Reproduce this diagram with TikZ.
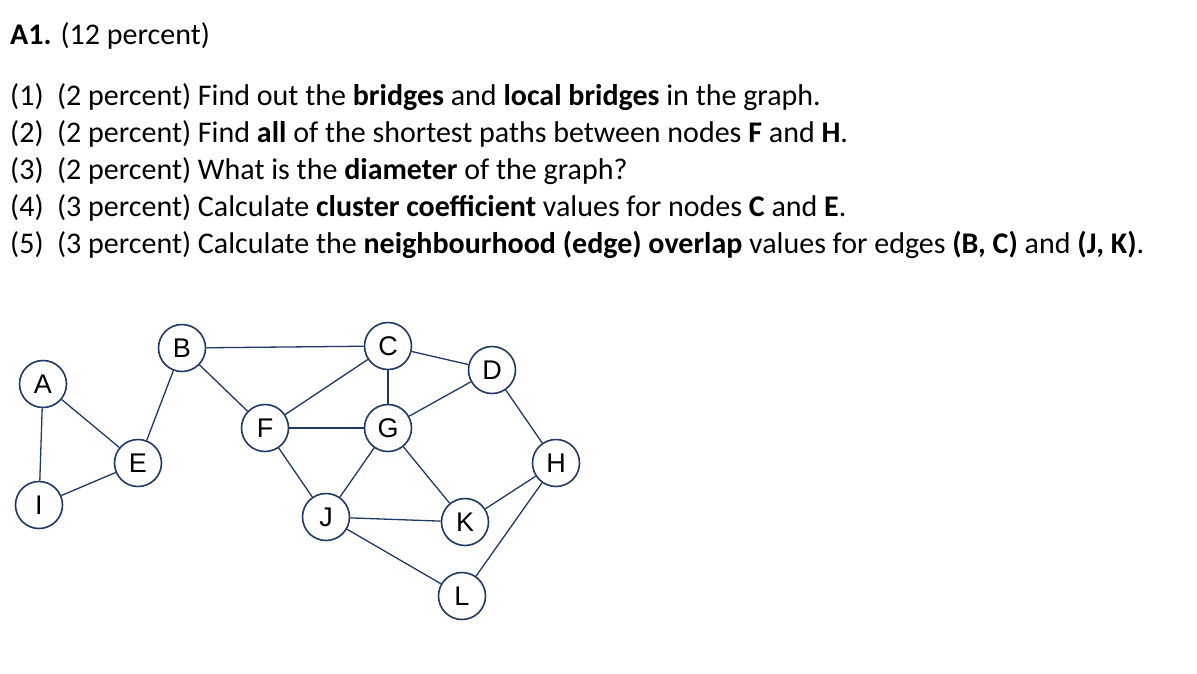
\documentclass[tikz,border=0pt]{standalone}
\usepackage{fontspec}
\setmainfont{Carlito}
\newfontfamily\arialf{Liberation Sans}
\begin{document}
\begin{tikzpicture}[x=1pt,y=-1pt,
  gnode/.style={circle,draw=nblue,line width=1.6pt,fill=white,minimum size=47pt,inner sep=0pt,font=\arialf\fontsize{27}{27}\selectfont},
  gedge/.style={draw=nblue,line width=1.3pt},
  qline/.style={anchor=base west,inner sep=0pt,font=\fontsize{30}{34}\selectfont}]
\definecolor{nblue}{HTML}{1F3864}
\useasboundingbox (0,0) rectangle (1197,673);
\node[qline] (t0) at (10,44) {\textbf{A1.} (12 percent)};
\node[qline] (t1) at (10,105) {(1)\ \ (2 percent) Find out the \textbf{bridges} and \textbf{local bridges} in the graph.};
\node[qline] (t2) at (10,142) {(2)\ \ (2 percent) Find \textbf{all} of the shortest paths between nodes \textbf{F} and \textbf{H}.};
\node[qline] (t3) at (10,179) {(3)\ \ (2 percent) What is the \textbf{diameter} of the graph?};
\node[qline] (t4) at (10,216) {(4)\ \ (3 percent) Calculate \textbf{cluster coefficient} values for nodes \textbf{C} and \textbf{E}.};
\node[qline] (t5) at (10,253) {(5)\ \ (3 percent) Calculate the \textbf{neighbourhood (edge) overlap} values for edges \textbf{(B, C)} and \textbf{(J, K)}.};
\node[gnode] (A) at (43,384) {A};
\node[gnode] (B) at (182,348) {B};
\node[gnode] (C) at (388,346) {C};
\node[gnode] (D) at (492,370) {D};
\node[gnode] (E) at (138,463) {E};
\node[gnode] (F) at (265,428) {F};
\node[gnode] (G) at (388,428) {G};
\node[gnode] (H) at (556,463) {H};
\node[gnode] (I) at (39,505) {I};
\node[gnode] (J) at (326,517) {J};
\node[gnode] (K) at (465,522) {K};
\node[gnode] (L) at (462,596) {L};
\foreach \a/\b in {A/I,A/E,I/E,E/B,B/C,B/F,F/C,F/G,C/G,C/D,G/D,D/H,F/J,G/J,G/K,J/K,J/L,K/H,L/H}
  \draw[gedge] (\a) -- (\b);
\end{tikzpicture}
\end{document}
